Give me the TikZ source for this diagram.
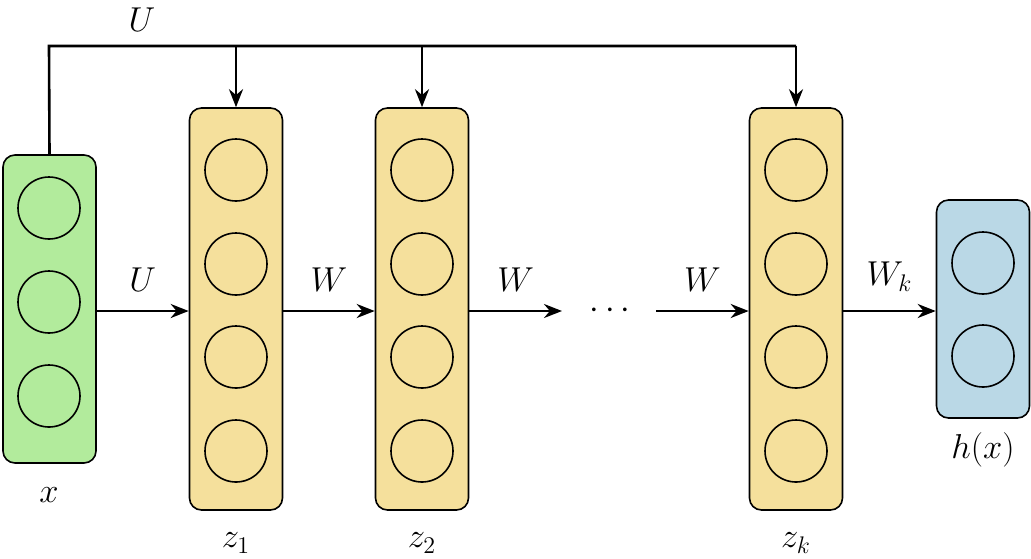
\documentclass[tikz,border=0pt]{standalone}
\usetikzlibrary{arrows.meta}
\begin{document}
\begin{tikzpicture}[x=0.5pt,y=-0.5pt,font=\fontsize{17}{20}\selectfont,
 box/.style={draw,line width=0.8pt,rounded corners=6pt},
 neu/.style={draw,circle,line width=0.8pt,minimum size=31pt,inner sep=0pt},
 arr/.style={line width=1.3pt,-{Stealth[length=9pt,width=7pt]}},
 ln/.style={line width=1.3pt}]
\useasboundingbox (0,0) rectangle (1031,558);
\definecolor{gr}{HTML}{B2EB9C}\definecolor{ye}{HTML}{F5E09C}\definecolor{bl}{HTML}{BAD8E6}
\node[box,fill=gr,minimum width=46.5pt,minimum height=154pt] (x) at (49.5,309) {};
\foreach \y [count=\i] in {208,302,396} \node[neu] (x\i) at (49,\y) {};
\foreach \n/\c in {z1/236,z2/422,zk/796}{
 \node[box,fill=ye,minimum width=46.5pt,minimum height=201pt] (\n) at (\c,309) {};
 \foreach \y [count=\i] in {170,264,357,451} \node[neu] (\n c\i) at (\c,\y) {};}
\node[box,fill=bl,minimum width=46.5pt,minimum height=109pt] (h) at (983,309) {};
\node[neu] (h1) at (983,263) {}; \node[neu] (h2) at (983,356) {};
\node (dots) at (610,311) {$\cdots$};
\draw[arr] (x.east|-0,311) -- node[above=6pt]{$U$} (z1.west|-0,311);
\draw[arr] (z1.east|-0,311) -- node[above=6pt]{$W$} (z2.west|-0,311);
\draw[arr] (z2.east|-0,311) -- node[above=6pt]{$W$} (562,311);
\coordinate (s) at (656,311);
\draw[arr] (s) -- node[above=6pt]{$W$} (zk.west|-0,311);
\draw[arr] (zk.east|-0,311) -- node[above=6pt]{$W_k$} (h.west|-0,311);
\coordinate (t1) at (49,46); \coordinate (t2) at (796,46);
\draw[ln] (x.north) -- (t1) -- (t2);
\draw[arr] (236,46) -- (z1.north);
\draw[arr] (422,46) -- (z2.north);
\draw[arr] (t2) -- (zk.north);
\node at (142,20) {$U$};
\node at (49,495) {$x$};
\node at (236,543) {$z_1$};
\node at (422,543) {$z_2$};
\node at (796,543) {$z_k$};
\node at (983,450) {$h(x)$};
\end{tikzpicture}
\end{document}
